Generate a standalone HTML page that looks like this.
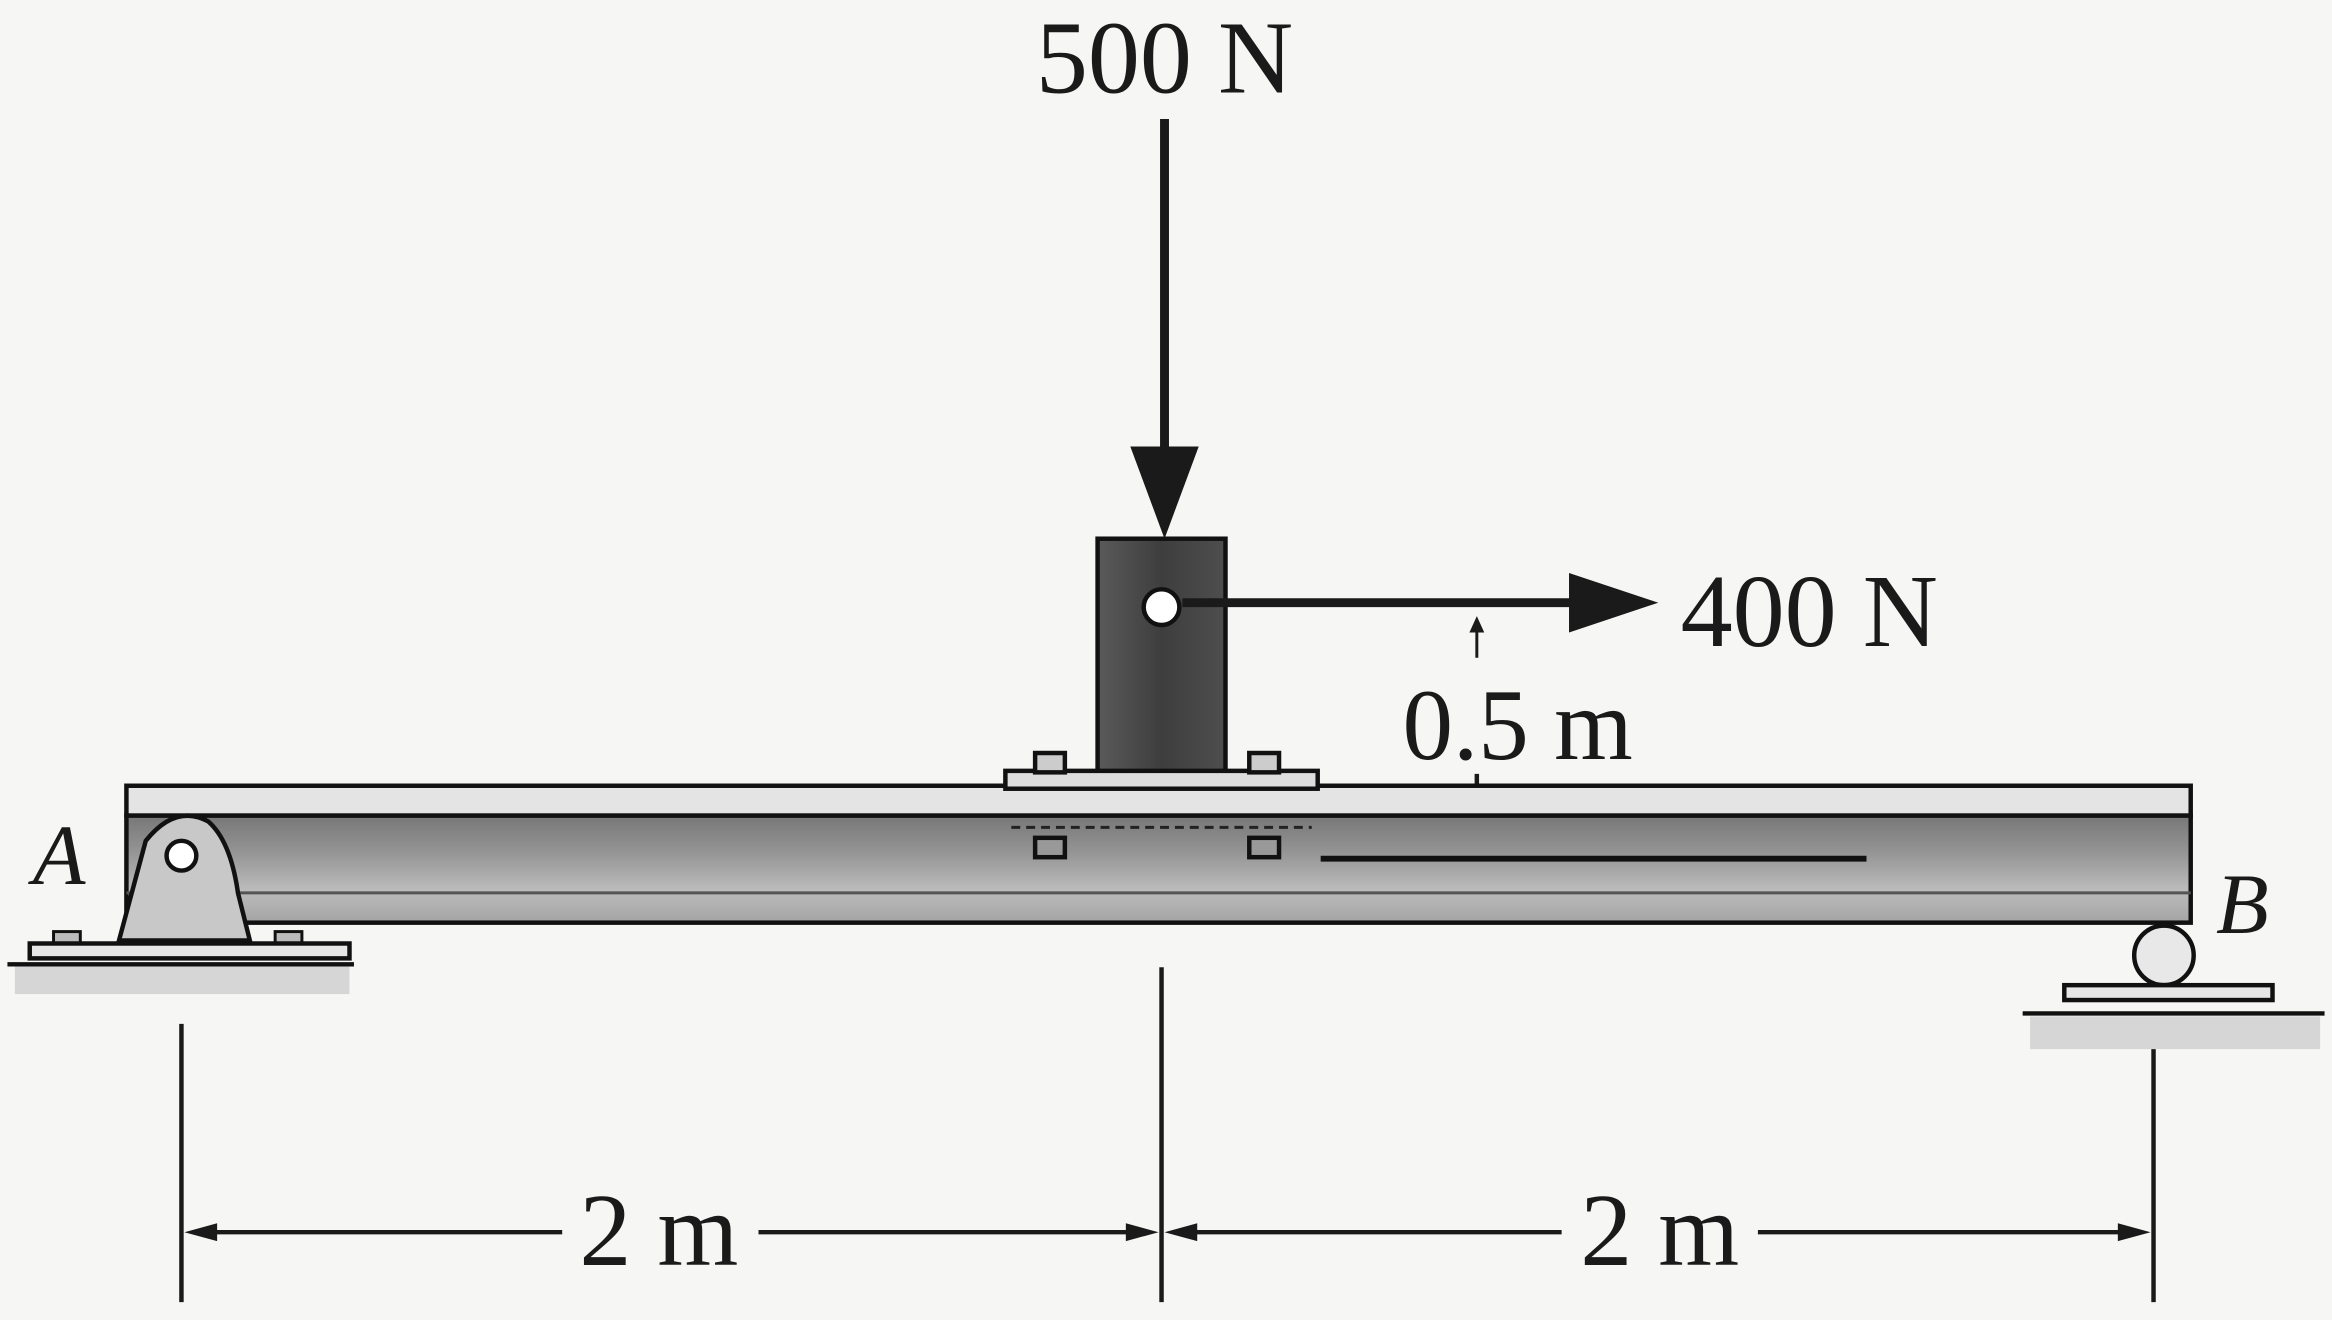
<!DOCTYPE html>
<html><head><meta charset="utf-8"><style>
html,body{margin:0;padding:0;background:#f6f6f4;}
svg{display:block;}
text{font-family:"Liberation Serif",serif;fill:#1a1a1a;}
</style></head><body>
<svg width="2332" height="1320" viewBox="0 0 1568 887" preserveAspectRatio="none" xmlns="http://www.w3.org/2000/svg">
<defs>
<linearGradient id="beam" x1="0" y1="0" x2="0" y2="1">
<stop offset="0" stop-color="#777"/><stop offset="0.35" stop-color="#959595"/><stop offset="0.7" stop-color="#bcbcbc"/><stop offset="1" stop-color="#a4a4a4"/>
</linearGradient>
<linearGradient id="blk" x1="0" y1="0" x2="1" y2="0">
<stop offset="0" stop-color="#5a5a5a"/><stop offset="0.5" stop-color="#3e3e3e"/><stop offset="1" stop-color="#4e4e4e"/>
</linearGradient>
</defs>
<rect width="1568" height="887" fill="#f6f6f4"/>
<text x="783" y="62" font-size="70" text-anchor="middle">500 N</text>
<line x1="783" y1="80" x2="783" y2="305" stroke="#1a1a1a" stroke-width="6"/>
<polygon points="760,300 806,300 783,362" fill="#1a1a1a"/>
<rect x="738" y="362" width="86" height="160" fill="url(#blk)" stroke="#111" stroke-width="3"/>
<circle cx="781" cy="408" r="12" fill="#fff" stroke="#111" stroke-width="3"/>
<line x1="795" y1="405" x2="1065" y2="405" stroke="#1a1a1a" stroke-width="6"/>
<polygon points="1055,385 1115,405 1055,425" fill="#1a1a1a"/>
<text x="1130" y="434" font-size="70">400 N</text>
<text x="943" y="510" font-size="68">0.5 m</text>
<line x1="993" y1="425" x2="993" y2="442" stroke="#1a1a1a" stroke-width="2"/>
<polygon points="988,425 998,425 993,414" fill="#1a1a1a"/>
<line x1="993" y1="520" x2="993" y2="578" stroke="#1a1a1a" stroke-width="3"/>
<rect x="85" y="548" width="1388" height="72" fill="url(#beam)" stroke="#111" stroke-width="3"/>
<rect x="85" y="528" width="1388" height="20" fill="#e4e4e4" stroke="#111" stroke-width="3"/>
<line x1="85" y1="600" x2="1473" y2="600" stroke="#555" stroke-width="2"/>
<line x1="888" y1="577" x2="1255" y2="577" stroke="#111" stroke-width="4"/>
<rect x="676" y="518" width="210" height="12" fill="#ddd" stroke="#111" stroke-width="3"/>
<rect x="696" y="506" width="20" height="13" fill="#ccc" stroke="#111" stroke-width="3"/>
<rect x="840" y="506" width="20" height="13" fill="#ccc" stroke="#111" stroke-width="3"/>
<rect x="696" y="563" width="20" height="13" fill="#999" stroke="#111" stroke-width="3"/>
<rect x="840" y="563" width="20" height="13" fill="#999" stroke="#111" stroke-width="3"/>
<line x1="680" y1="556" x2="882" y2="556" stroke="#222" stroke-width="2" stroke-dasharray="6 4"/>
<path d="M80,632 L98,565 Q118,540 140,552 Q155,565 160,600 L168,632 Z" fill="#c8c8c8" stroke="#111" stroke-width="3"/>
<circle cx="122" cy="575" r="10" fill="#fff" stroke="#111" stroke-width="3"/>
<rect x="36" y="626" width="18" height="9" fill="#bbb" stroke="#111" stroke-width="2"/>
<rect x="185" y="626" width="18" height="9" fill="#bbb" stroke="#111" stroke-width="2"/>
<rect x="20" y="634" width="215" height="10" fill="#e6e6e6" stroke="#111" stroke-width="3"/>
<rect x="10" y="648" width="225" height="20" fill="#c9c9c9" opacity="0.7"/>
<line x1="5" y1="648" x2="238" y2="648" stroke="#111" stroke-width="3"/>
<text x="22" y="594" font-size="58" font-style="italic">A</text>
<circle cx="1455" cy="642" r="20" fill="#e8e8e8" stroke="#111" stroke-width="3"/>
<rect x="1388" y="662" width="140" height="10" fill="#e6e6e6" stroke="#111" stroke-width="3"/>
<rect x="1365" y="683" width="195" height="22" fill="#c9c9c9" opacity="0.7"/>
<line x1="1360" y1="681" x2="1563" y2="681" stroke="#111" stroke-width="3"/>
<text x="1490" y="627" font-size="58" font-style="italic">B</text>
<line x1="122" y1="688" x2="122" y2="875" stroke="#1a1a1a" stroke-width="3"/>
<line x1="781" y1="650" x2="781" y2="875" stroke="#1a1a1a" stroke-width="3"/>
<line x1="1448" y1="705" x2="1448" y2="875" stroke="#1a1a1a" stroke-width="3"/>
<line x1="130" y1="828" x2="378" y2="828" stroke="#1a1a1a" stroke-width="3"/>
<line x1="510" y1="828" x2="772" y2="828" stroke="#1a1a1a" stroke-width="3"/>
<line x1="790" y1="828" x2="1050" y2="828" stroke="#1a1a1a" stroke-width="3"/>
<line x1="1182" y1="828" x2="1440" y2="828" stroke="#1a1a1a" stroke-width="3"/>
<polygon points="124,828 146,822 146,834" fill="#1a1a1a"/>
<polygon points="779,828 757,822 757,834" fill="#1a1a1a"/>
<polygon points="783,828 805,822 805,834" fill="#1a1a1a"/>
<polygon points="1446,828 1424,822 1424,834" fill="#1a1a1a"/>
<text x="443" y="850" font-size="70" text-anchor="middle">2 m</text>
<text x="1116" y="850" font-size="70" text-anchor="middle">2 m</text>
</svg>
</body></html>
